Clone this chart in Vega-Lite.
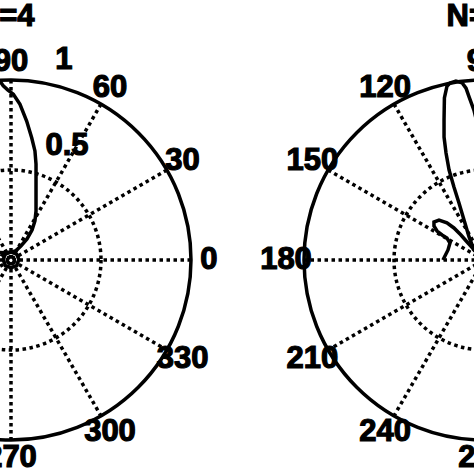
{
  "$schema": "https://vega.github.io/schema/vega-lite/v6.json",
  "padding": 0,
  "spacing": 0,
  "background": "white",
  "config": {"view": {"stroke": null}, "concat": {"spacing": 0}},
  "datasets": {
    "centre": [{"x": 0, "y": 0}],
    "spokes": [
      {"x": 1, "y": 0, "x2": -1, "y2": 0},
      {"x": 0.866, "y": 0.5, "x2": -0.866, "y2": -0.5},
      {"x": 0.5, "y": 0.866, "x2": -0.5, "y2": -0.866},
      {"x": 0, "y": 1, "x2": 0, "y2": -1},
      {"x": -0.5, "y": 0.866, "x2": 0.5, "y2": -0.866},
      {"x": -0.866, "y": 0.5, "x2": 0.866, "y2": -0.5}
    ],
    "angles": [
      {"text": "0", "x": 1.1, "y": 0},
      {"text": "30", "x": 0.953, "y": 0.55},
      {"text": "60", "x": 0.55, "y": 0.953},
      {"text": "90", "x": 0, "y": 1.1},
      {"text": "120", "x": -0.55, "y": 0.953},
      {"text": "150", "x": -0.953, "y": 0.55},
      {"text": "180", "x": -1.1, "y": 0},
      {"text": "210", "x": -0.953, "y": -0.55},
      {"text": "240", "x": -0.55, "y": -0.953},
      {"text": "270", "x": 0, "y": -1.1},
      {"text": "300", "x": 0.55, "y": -0.953},
      {"text": "330", "x": 0.953, "y": -0.55},
      {"text": "1", "x": 0.294, "y": 1.111},
      {"text": "0.5", "x": 0.311, "y": 0.633}
    ],
    "titles": [
      {"plot": "L", "text": "N=4", "x": -0.03, "y": 1.35},
      {"plot": "R", "text": "N=16", "x": 0, "y": 1.35}
    ],
    "pattern": [
      {"plot": "L", "seg": "a", "i": 1, "x": -0.15, "y": 0.99},
      {"plot": "L", "seg": "a", "i": 2, "x": -0.061, "y": 0.994},
      {"plot": "L", "seg": "a", "i": 3, "x": -0.043, "y": 0.967},
      {"plot": "L", "seg": "a", "i": 4, "x": -0.017, "y": 0.944},
      {"plot": "L", "seg": "a", "i": 5, "x": 0.013, "y": 0.921},
      {"plot": "L", "seg": "a", "i": 6, "x": 0.05, "y": 0.865},
      {"plot": "L", "seg": "a", "i": 7, "x": 0.087, "y": 0.772},
      {"plot": "L", "seg": "a", "i": 8, "x": 0.115, "y": 0.679},
      {"plot": "L", "seg": "a", "i": 9, "x": 0.133, "y": 0.606},
      {"plot": "L", "seg": "a", "i": 10, "x": 0.139, "y": 0.533},
      {"plot": "L", "seg": "a", "i": 11, "x": 0.139, "y": 0.4},
      {"plot": "L", "seg": "a", "i": 12, "x": 0.139, "y": 0.272},
      {"plot": "L", "seg": "a", "i": 13, "x": 0.133, "y": 0.217},
      {"plot": "L", "seg": "a", "i": 14, "x": 0.117, "y": 0.167},
      {"plot": "L", "seg": "a", "i": 15, "x": 0.089, "y": 0.117},
      {"plot": "L", "seg": "a", "i": 16, "x": 0.055, "y": 0.078},
      {"plot": "L", "seg": "a", "i": 17, "x": 0.028, "y": 0.052},
      {"plot": "L", "seg": "a", "i": 18, "x": 0, "y": 0.044},
      {"plot": "L", "seg": "a", "i": 19, "x": -0.031, "y": 0.033},
      {"plot": "L", "seg": "a", "i": 20, "x": -0.044, "y": 0.003},
      {"plot": "L", "seg": "a", "i": 21, "x": -0.031, "y": -0.031},
      {"plot": "L", "seg": "a", "i": 22, "x": 0, "y": -0.044},
      {"plot": "L", "seg": "a", "i": 23, "x": 0.031, "y": -0.031},
      {"plot": "L", "seg": "a", "i": 24, "x": 0.044, "y": 0.003},
      {"plot": "L", "seg": "a", "i": 25, "x": 0.031, "y": 0.033},
      {"plot": "L", "seg": "a", "i": 26, "x": 0, "y": 0.044},
      {"plot": "L", "seg": "a", "i": 27, "x": -0.035, "y": 0.04},
      {"plot": "L", "seg": "a", "i": 28, "x": -0.1, "y": 0.045},
      {"plot": "R", "seg": "a", "i": 1, "x": 0, "y": 0},
      {"plot": "R", "seg": "a", "i": 2, "x": -0.056, "y": 0.056},
      {"plot": "R", "seg": "a", "i": 3, "x": -0.083, "y": 0.128},
      {"plot": "R", "seg": "a", "i": 4, "x": -0.111, "y": 0.222},
      {"plot": "R", "seg": "a", "i": 5, "x": -0.139, "y": 0.317},
      {"plot": "R", "seg": "a", "i": 6, "x": -0.167, "y": 0.406},
      {"plot": "R", "seg": "a", "i": 7, "x": -0.194, "y": 0.5},
      {"plot": "R", "seg": "a", "i": 8, "x": -0.211, "y": 0.594},
      {"plot": "R", "seg": "a", "i": 9, "x": -0.222, "y": 0.683},
      {"plot": "R", "seg": "a", "i": 10, "x": -0.222, "y": 0.778},
      {"plot": "R", "seg": "a", "i": 11, "x": -0.22, "y": 0.9},
      {"plot": "R", "seg": "a", "i": 12, "x": -0.206, "y": 0.965},
      {"plot": "R", "seg": "a", "i": 13, "x": -0.189, "y": 0.983},
      {"plot": "R", "seg": "a", "i": 14, "x": -0.156, "y": 0.994},
      {"plot": "R", "seg": "a", "i": 15, "x": -0.122, "y": 0.985},
      {"plot": "R", "seg": "a", "i": 16, "x": -0.1, "y": 0.955},
      {"plot": "R", "seg": "a", "i": 17, "x": -0.083, "y": 0.906},
      {"plot": "R", "seg": "a", "i": 18, "x": -0.056, "y": 0.833},
      {"plot": "R", "seg": "a", "i": 19, "x": -0.022, "y": 0.694},
      {"plot": "R", "seg": "a", "i": 20, "x": 0.006, "y": 0.5},
      {"plot": "R", "seg": "a", "i": 21, "x": 0.017, "y": 0.278},
      {"plot": "R", "seg": "a", "i": 22, "x": 0.011, "y": 0.111},
      {"plot": "R", "seg": "a", "i": 23, "x": 0, "y": 0},
      {"plot": "R", "seg": "b", "i": 1, "x": 0, "y": 0},
      {"plot": "R", "seg": "b", "i": 2, "x": -0.044, "y": 0.044},
      {"plot": "R", "seg": "b", "i": 3, "x": -0.094, "y": 0.1},
      {"plot": "R", "seg": "b", "i": 4, "x": -0.128, "y": 0.139},
      {"plot": "R", "seg": "b", "i": 5, "x": -0.167, "y": 0.178},
      {"plot": "R", "seg": "b", "i": 6, "x": -0.206, "y": 0.206},
      {"plot": "R", "seg": "b", "i": 7, "x": -0.25, "y": 0.222},
      {"plot": "R", "seg": "b", "i": 8, "x": -0.278, "y": 0.211},
      {"plot": "R", "seg": "b", "i": 9, "x": -0.278, "y": 0.189},
      {"plot": "R", "seg": "b", "i": 10, "x": -0.261, "y": 0.161},
      {"plot": "R", "seg": "b", "i": 11, "x": -0.233, "y": 0.139},
      {"plot": "R", "seg": "b", "i": 12, "x": -0.206, "y": 0.122},
      {"plot": "R", "seg": "b", "i": 13, "x": -0.189, "y": 0.094},
      {"plot": "R", "seg": "b", "i": 14, "x": -0.2, "y": 0.056},
      {"plot": "R", "seg": "b", "i": 15, "x": -0.217, "y": 0.022},
      {"plot": "R", "seg": "b", "i": 16, "x": -0.228, "y": 0}
    ]
  },
  "hconcat": [
    {
      "width": 237,
      "height": 474,
      "encoding": {
        "x": {"field": "x", "type": "quantitative", "axis": null,
              "scale": {"domain": [-0.0611, 1.2556], "zero": false, "nice": false}},
        "y": {"field": "y", "type": "quantitative", "axis": null,
              "scale": {"domain": [-1.1889, 1.4444], "zero": false, "nice": false}}
      },
      "layer": [
        {
          "data": {"name": "spokes"},
          "mark": {"type": "rule", "color": "black", "strokeWidth": 3.5, "strokeDash": [3.5, 3.5], "clip": true},
          "encoding": {"x2": {"field": "x2"}, "y2": {"field": "y2"}}
        },
        {
          "data": {"name": "centre"},
          "mark": {"type": "point", "shape": "circle", "size": 32400, "filled": false, "opacity": 1,
                   "stroke": "black", "strokeWidth": 3.5, "strokeDash": [3.5, 3.5], "clip": true}
        },
        {
          "data": {"name": "centre"},
          "mark": {"type": "point", "shape": "circle", "size": 129600, "filled": false, "opacity": 1,
                   "stroke": "black", "strokeWidth": 3.5, "clip": true}
        },
        {
          "data": {"name": "pattern"},
          "transform": [{"filter": "datum.plot == 'L'"}],
          "mark": {"type": "line", "color": "black", "strokeWidth": 3.5, "clip": true},
          "encoding": {"detail": {"field": "seg"}, "order": {"field": "i", "type": "quantitative"}}
        },
        {
          "data": {"name": "angles"},
          "mark": {"type": "text", "font": "Liberation Sans", "fontWeight": "bold", "fontSize": 31,
                   "align": "center", "baseline": "middle", "color": "black",
                   "stroke": "black", "strokeWidth": 1.2, "clip": true},
          "encoding": {"text": {"field": "text"}}
        },
        {
          "data": {"name": "titles"},
          "transform": [{"filter": "datum.plot == 'L'"}],
          "mark": {"type": "text", "font": "Liberation Sans", "fontWeight": "bold", "fontSize": 31,
                   "align": "center", "baseline": "middle", "color": "black",
                   "stroke": "black", "strokeWidth": 1.2, "clip": true},
          "encoding": {"text": {"field": "text"}}
        }
      ]
    },
    {
      "width": 237,
      "height": 474,
      "encoding": {
        "x": {"field": "x", "type": "quantitative", "axis": null,
              "scale": {"domain": [-1.3722, -0.0556], "zero": false, "nice": false}},
        "y": {"field": "y", "type": "quantitative", "axis": null,
              "scale": {"domain": [-1.1889, 1.4444], "zero": false, "nice": false}}
      },
      "layer": [
        {
          "data": {"name": "spokes"},
          "mark": {"type": "rule", "color": "black", "strokeWidth": 3.5, "strokeDash": [3.5, 3.5], "clip": true},
          "encoding": {"x2": {"field": "x2"}, "y2": {"field": "y2"}}
        },
        {
          "data": {"name": "centre"},
          "mark": {"type": "point", "shape": "circle", "size": 32400, "filled": false, "opacity": 1,
                   "stroke": "black", "strokeWidth": 3.5, "strokeDash": [3.5, 3.5], "clip": true}
        },
        {
          "data": {"name": "centre"},
          "mark": {"type": "point", "shape": "circle", "size": 129600, "filled": false, "opacity": 1,
                   "stroke": "black", "strokeWidth": 3.5, "clip": true}
        },
        {
          "data": {"name": "pattern"},
          "transform": [{"filter": "datum.plot == 'R'"}],
          "mark": {"type": "line", "color": "black", "strokeWidth": 3.5, "clip": true},
          "encoding": {"detail": {"field": "seg"}, "order": {"field": "i", "type": "quantitative"}}
        },
        {
          "data": {"name": "angles"},
          "mark": {"type": "text", "font": "Liberation Sans", "fontWeight": "bold", "fontSize": 31,
                   "align": "center", "baseline": "middle", "color": "black",
                   "stroke": "black", "strokeWidth": 1.2, "clip": true},
          "encoding": {"text": {"field": "text"}}
        },
        {
          "data": {"name": "titles"},
          "transform": [{"filter": "datum.plot == 'R'"}],
          "mark": {"type": "text", "font": "Liberation Sans", "fontWeight": "bold", "fontSize": 31,
                   "align": "center", "baseline": "middle", "color": "black",
                   "stroke": "black", "strokeWidth": 1.2, "clip": true},
          "encoding": {"text": {"field": "text"}}
        }
      ]
    }
  ]
}
